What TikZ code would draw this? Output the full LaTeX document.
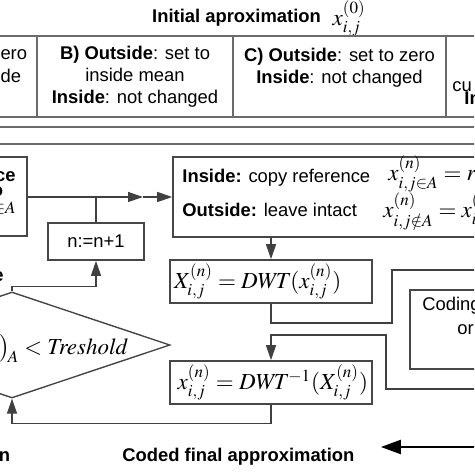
\documentclass[tikz,border=0pt]{standalone}
\usepackage{mathptmx}
\usepackage[no-math]{fontspec}
\setmainfont{Liberation Sans}
\usetikzlibrary{shapes.geometric,arrows.meta,positioning}

\begin{document}
\begin{tikzpicture}[x=0.5pt, y=-0.5pt,
    % Define styles
    txt/.style={font=\fontsize{9.2}{11}\selectfont, inner sep=0pt, align=center},
    eq/.style={font=\fontsize{11.5}{13}\selectfont, inner sep=0pt},
    cell/.style={rectangle, draw=black!58, line width=1pt, minimum width=#1, minimum height=40.5pt, inner sep=0pt, align=center, font=\fontsize{9.2}{11}\selectfont},
    block/.style={rectangle, draw=black!72, line width=0.8pt, inner sep=0pt},
    decision/.style={diamond, draw=black!72, line width=0.7pt, minimum width=158pt, minimum height=53pt, inner sep=0pt},
    line/.style={draw=black!75, line width=0.65pt},
    arrow/.style={line, -{Triangle[length=7.5pt, width=5pt]}},
    bigarrow/.style={draw=black, line width=1.1pt, -{Triangle[length=10pt, width=7pt]}}
]
\useasboundingbox (0,0) rectangle (474,474);
\clip (0,0) rectangle (474,474);

% Header
\node[txt] (title) at (236.5,18) {\textbf{Initial aproximation}};
\node[eq, right=5.5pt of title] (x0) {$x^{(0)}_{i,j}$};

% Initial approximation variants
\node[cell=98pt] (cellA) at (-61.5,76.5) {};
\node[cell=98pt] (cellB) at (135,76.5) {\textbf{B) Outside}: set to\\inside mean\\\textbf{Inside}: not changed};
\node[cell=106.5pt] (cellC) at (339.5,76.5) {\textbf{C) Outside}: set to zero\\\textbf{Inside}: not changed\\\mbox{}};
\node[cell=106.5pt] (cellD) at (552.5,76.5) {};
\node[cell=270pt, minimum height=8.5pt] (band) at (237,135.5) {};

% Cut-off texts of the outer variants
\node[txt, anchor=base east] (fragA1) at (27.5,60) {ero};
\node[txt, anchor=base east] (fragA2) at (21.5,83) {de};
\node[txt, anchor=base west] (fragD1) at (452,92) {cu};
\node[txt, anchor=base west] (fragD2) at (464,105) {\textbf{In}};

% Main blocks
\node[block, minimum width=63.5pt, minimum height=39.5pt] (refbox) at (-36.5,196.5) {};
\node[block, minimum width=193pt, minimum height=40pt] (copybox) at (366,197) {};
\node[block, txt, minimum width=48pt, minimum height=18.5pt] (incr) at (96,241.5) {n:=n+1};
\node[block, eq, text width=97pt, align=left, inner xsep=2pt, minimum height=21.5pt] (dwt) at (271,281.5) {$X^{(n)}_{i,j}=\mathit{DWT}(x^{(n)}_{i,j})$};
\node[block, eq, text width=97pt, align=right, inner xsep=2pt, minimum height=21.5pt] (idwt) at (271,382.5) {$x^{(n)}_{i,j}=\mathit{DWT}^{-1}(X^{(n)}_{i,j})$};
\node[block, minimum width=65pt, minimum height=39.5pt] (coding) at (475,329.5) {};
\node[decision] (check) at (12,345) {};

% Texts in the blocks
\node[txt, anchor=base east] (refA) at (16,182) {\textbf{ce}};
\node[txt, anchor=base east] (refB) at (3.5,197) {\textbf{o}};
\node[eq, anchor=base east] (refC) at (16,214) {$\scriptstyle\in A$};
\node[txt, anchor=base west] (inside) at (182,183) {\textbf{Inside:} copy reference};
\node[txt, anchor=base west] (outside) at (182,217) {\textbf{Outside:} leave intact};
\node[eq, anchor=base west] (eqin) at (388,181) {$x^{(n)}_{i,j\in A}=r_{i,j\in A}$};
\node[eq, anchor=base west] (eqout) at (383,218) {$x^{(n)}_{i,j\notin A}=x^{(n)}_{i,j}$};
\node[txt, anchor=base west] (codA) at (422,311) {Coding};
\node[txt, anchor=base west] (codB) at (457,334) {or};
\node[eq, anchor=base east] (cond) at (128,354) {$^{0)}\bigr)_{\!A}<\mathit{Treshold}$};
\node[txt, anchor=base east] (yes) at (4,282) {\textbf{e}};
\node[txt, anchor=base east] (fragF) at (10.5,461) {\textbf{n}};
\node[txt, anchor=base west] (final) at (122,461) {\textbf{Coded final approximation}};

% Connections
\coordinate (mid) at (143,197);
\coordinate (c1) at (392,323);
\coordinate (out1) at (490,270);
\coordinate (c2) at (386,335);
\coordinate (in1) at (490,389);
\coordinate (in2) at (490,447);

\draw[arrow] (refbox.east |- mid) -- (mid);
\draw[arrow] (mid) -- (copybox.west |- mid);
\draw[line] (incr.north) -- (incr.north |- mid);
\draw[arrow] (copybox.south -| dwt.north) -- (dwt.north);
\draw[line] (dwt.south) |- (c1) |- (out1);
\draw[arrow] (in1) -| (c2) -| (idwt.north);
\draw[arrow] (idwt.south) -- ++(0,19) -| (check.south);
\draw[arrow] (check.north) -- ++(0,-5) -| (incr.south);
\draw[bigarrow, shorten >=13pt] (in2) -- (in2 -| final.east);

\end{tikzpicture}
\end{document}
